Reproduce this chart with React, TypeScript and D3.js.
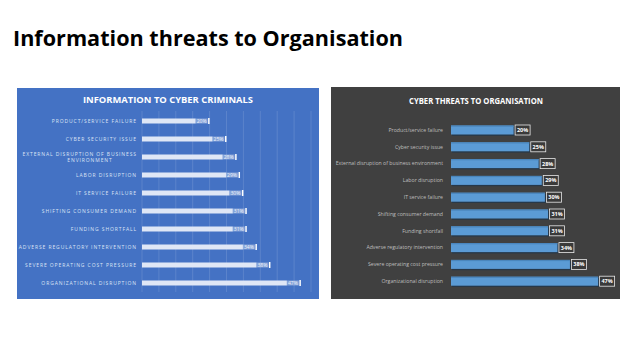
import React from "react";
import * as d3 from "d3";

const categories = [
  "Product/service failure",
  "Cyber security issue",
  "External disruption of business environment",
  "Labor disruption",
  "IT service failure",
  "Shifting consumer demand",
  "Funding shortfall",
  "Adverse regulatory intervention",
  "Severe operating cost pressure",
  "Organizational disruption",
];
const values = [20, 25, 28, 29, 30, 31, 31, 34, 38, 47];
const gridTicks = [0, 5, 10, 15, 20, 25, 30, 35, 40, 45, 50];
const mainTitle = "Information threats to Organisation";
const leftTitle = "INFORMATION TO CYBER CRIMINALS";
const rightTitle = "CYBER THREATS TO ORGANISATION";

const FONT = "'Open Sans', 'Liberation Sans', sans-serif";

function LeftChart() {
  const x = d3.scaleLinear().domain([0, 50]).range([142, 311]);
  const y = d3.scaleBand<string>().domain(categories).range([112, 292]);
  const bh = 5;
  return (
    <g>
      <rect x={17} y={88} width={302} height={211} fill="#4472c4" />
      <text x={168} y={103} textAnchor="middle" fill="#ffffff" fontFamily={FONT}
        fontWeight="bold" fontSize={9.5} textLength={170} lengthAdjust="spacingAndGlyphs">
        {leftTitle}
      </text>
      {gridTicks.map((t) => (
        <line key={t} x1={x(t)} x2={x(t)} y1={111} y2={292} stroke="#ffffff" strokeOpacity={0.16} strokeWidth={0.8} />
      ))}
      {categories.map((c, i) => {
        const cy = (y(c) as number) + y.bandwidth() / 2;
        const v = values[i];
        const xe = x(v);
        const label = c.toUpperCase();
        const lines = c === "External disruption of business environment"
          ? ["EXTERNAL DISRUPTION OF BUSINESS", "ENVIRONMENT"]
          : [label];
        return (
          <g key={c}>
            {lines.length === 1 ? (
              <text x={137} y={cy + 1.8} textAnchor="end" fill="#dbe3f4" fontFamily={FONT}
                fontSize={5} letterSpacing={0.9}>{label}</text>
            ) : (
              <g>
                <text x={137} y={cy - 1.5} textAnchor="end" fill="#dbe3f4" fontFamily={FONT}
                  fontSize={5} letterSpacing={0.9}>{lines[0]}</text>
                <text x={90} y={cy + 5} textAnchor="middle" fill="#dbe3f4" fontFamily={FONT}
                  fontSize={5} letterSpacing={0.9}>{lines[1]}</text>
              </g>
            )}
            <rect x={x(0)} y={cy - bh / 2} width={xe - 14 - x(0)} height={bh} fill="#dfe7f6" />
            <rect x={xe - 14} y={cy - bh / 2} width={12} height={bh} fill="#ffffff" fillOpacity={0.35} />
            <text x={xe - 8} y={cy + 1.8} textAnchor="middle" fill="#eef2fb" fontFamily={FONT}
              fontSize={5}>{v}%</text>
            <rect x={xe - 1.5} y={cy - 3} width={1.5} height={6} fill="#ffffff" />
          </g>
        );
      })}
    </g>
  );
}

function RightChart() {
  const x = d3.scaleLinear().domain([0, 50]).range([451, 607.5]);
  const y = d3.scaleBand<string>().domain(categories).range([121.6, 289.6]);
  const bh = 9;
  return (
    <g>
      <rect x={331} y={87} width={289} height={212} fill="#404040" />
      <text x={476} y={104} textAnchor="middle" fill="#ffffff" fontFamily={FONT}
        fontWeight="bold" fontSize={8.5} textLength={134} lengthAdjust="spacingAndGlyphs">
        {rightTitle}
      </text>
      {categories.map((c, i) => {
        const cy = (y(c) as number) + y.bandwidth() / 2;
        const v = values[i];
        const xe = x(v);
        return (
          <g key={c}>
            <text x={443} y={cy + 1.8} textAnchor="end" fill="#bfbfbf" fontFamily={FONT}
              fontSize={5.2}>{c}</text>
            <rect x={x(0) + 1} y={cy - bh / 2 + 1.3} width={xe - x(0)} height={bh} fill="#26384a" />
            <rect x={x(0)} y={cy - bh / 2} width={xe - x(0)} height={bh} fill="#5b9bd5" />
            <rect x={x(0)} y={cy - bh / 2} width={xe - x(0)} height={1.2} fill="#4a86bd" />
            <rect x={xe + 1.5} y={cy - 5} width={15} height={10} fill="#3a3a3a" stroke="#e8e8e8" strokeWidth={0.8} />
            <text x={xe + 9} y={cy + 2} textAnchor="middle" fill="#ffffff" fontFamily={FONT}
              fontWeight="bold" fontSize={5.5}>{v}%</text>
          </g>
        );
      })}
    </g>
  );
}

export default function App() {
  return (
    <svg width={638} height={359} style={{ position: "absolute", left: 0, top: 0, background: "#ffffff" }}>
      <rect x={0} y={0} width={638} height={359} fill="#ffffff" />
      <text x={13} y={46} fill="#000000" fontFamily={FONT} fontWeight="bold" fontSize={21}
        textLength={390} lengthAdjust="spacingAndGlyphs">{mainTitle}</text>
      <LeftChart />
      <RightChart />
    </svg>
  );
}
